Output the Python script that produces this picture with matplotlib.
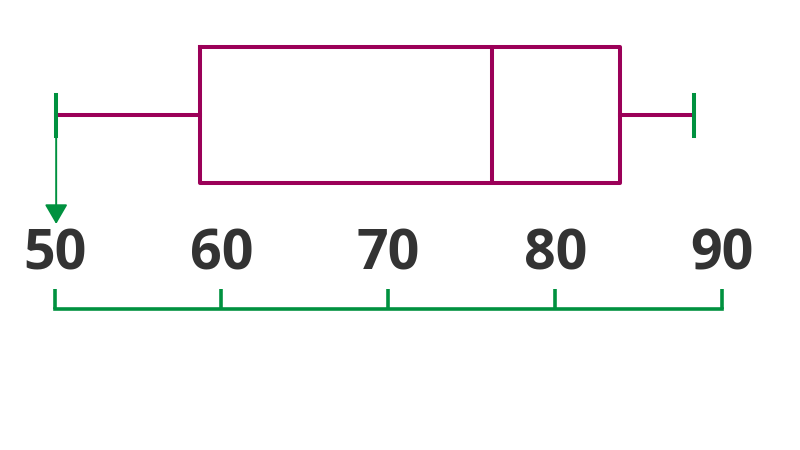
import matplotlib
matplotlib.use("Agg")
import matplotlib.pyplot as plt

# five-number summary
whisker_low = 50.1
q1 = 58.7
median = 76.2
q3 = 83.9
whisker_high = 88.3

ticks = [50, 60, 70, 80, 90]
tick_labels = ["50", "60", "70", "80", "90"]

purple = "#9b0058"
green = "#00913f"
text_col = "#333333"

fig = plt.figure(figsize=(8, 4.5), dpi=100)
ax = fig.add_axes([0, 0, 1, 1])
# x in data units, y in pixels from the top
px_per_unit = 16.69
x0 = 50 - 54.5 / px_per_unit
ax.set_xlim(x0, x0 + 800 / px_per_unit)
ax.set_ylim(450, 0)
ax.axis("off")

stats = [{"whislo": whisker_low, "q1": q1, "med": median, "q3": q3,
          "whishi": whisker_high}]
ax.bxp(stats, positions=[115], widths=136, capwidths=41,
       orientation="horizontal", showfliers=False,
       boxprops=dict(color=purple, linewidth=2.9),
       medianprops=dict(color=purple, linewidth=2.9),
       whiskerprops=dict(color=purple, linewidth=2.9, zorder=2),
       capprops=dict(color=green, linewidth=2.9, zorder=3))

# arrow from the lower whisker down to the number line
ax.annotate("", xy=(whisker_low, 224), xytext=(whisker_low, 137),
            arrowprops=dict(arrowstyle="-|>,head_length=0.55,head_width=0.32",
                            color=green, lw=1.4, mutation_scale=22,
                            shrinkA=0, shrinkB=0))

# number line
ax.plot([ticks[0], ticks[-1]], [309, 309], color=green, linewidth=2.6,
        solid_capstyle="projecting")
ax.vlines(ticks, 289, 309, color=green, linewidth=2.6)

for t, lab in zip(ticks, tick_labels):
    ax.text(t, 270, lab, ha="center", va="baseline", fontsize=40,
            fontweight="bold", color=text_col, family="Open Sans")

fig.savefig("out.png", dpi=100)
